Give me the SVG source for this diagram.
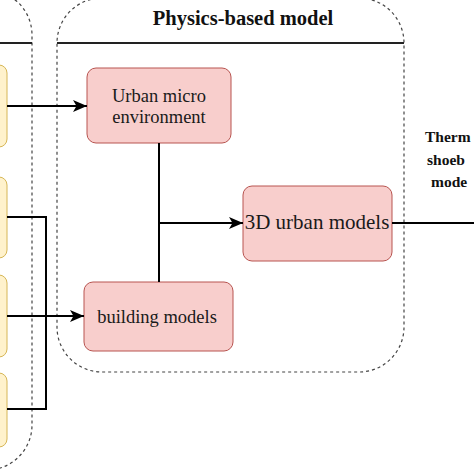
<svg xmlns="http://www.w3.org/2000/svg" width="474" height="474" viewBox="0 0 474 474">
<style>
.cont{fill:none;stroke:#444;stroke-width:1.2;stroke-dasharray:3 3}
.hdr{stroke:#222;stroke-width:2}
.yel{fill:#fff2cc;stroke:#d6b656;stroke-width:1}
.pink{fill:#f8cecc;stroke:#b85450;stroke-width:1}
.lbl{font-family:"Liberation Serif","Times New Roman",serif;fill:#1a1a1a;text-anchor:middle}
.bold{font-family:"Liberation Serif","Times New Roman",serif;font-weight:bold;fill:#111}
.con{fill:none;stroke:#000;stroke-width:2}
</style>
<defs>
<marker id="arr" markerUnits="userSpaceOnUse" markerWidth="16" markerHeight="14" refX="14" refY="6" orient="auto">
<path d="M0,0 L14,6 L0,12 L3.5,6 z" fill="#000"/>
</marker>
</defs>
<g id="left-container">
<rect class="cont" x="-100" y="-10" width="132" height="480" rx="45"/>
<line class="hdr" x1="0" y1="43" x2="32" y2="43"/>
</g>
<g id="physics-container">
<rect class="cont" x="57" y="-2" width="347" height="374" rx="45"/>
<line class="hdr" x1="57" y1="43" x2="404" y2="43"/>
<text class="bold" x="243" y="25" font-size="20.5" text-anchor="middle">Physics-based model</text>
</g>
<g id="input1"><rect class="yel" x="-50" y="65" width="57" height="82" rx="8"/></g>
<g id="input2"><rect class="yel" x="-50" y="177" width="57" height="81" rx="8"/></g>
<g id="input3"><rect class="yel" x="-50" y="275" width="57" height="82" rx="8"/></g>
<g id="input4"><rect class="yel" x="-50" y="373" width="57" height="74" rx="8"/></g>
<g id="urban-micro">
<rect class="pink" x="87" y="68" width="144" height="75" rx="9"/>
<text class="lbl" x="159" y="102" font-size="18.5">Urban micro</text>
<text class="lbl" x="159" y="123" font-size="18.5">environment</text>
</g>
<g id="urban-3d">
<rect class="pink" x="243" y="186" width="149" height="75" rx="9"/>
<text class="lbl" x="317" y="229" font-size="21">3D urban models</text>
</g>
<g id="building">
<rect class="pink" x="84" y="282" width="149" height="69" rx="9"/>
<text class="lbl" x="157" y="323" font-size="18.5">building models</text>
</g>
<g id="thermal">
<text class="bold" x="425" y="142" font-size="15.5">Therm</text>
<text class="bold" x="427" y="165" font-size="15.5">shoeb</text>
<text class="bold" x="431" y="187" font-size="15.5">mode</text>
</g>
<g id="connectors">
<line class="con" x1="7" y1="106" x2="87" y2="106" marker-end="url(#arr)"/>
<polyline class="con" points="7,217 46,217 46,409 7,409"/>
<line class="con" x1="7" y1="316" x2="84" y2="316" marker-end="url(#arr)"/>
<line class="con" x1="159" y1="143" x2="159" y2="282"/>
<line class="con" x1="159" y1="223" x2="243" y2="223" marker-end="url(#arr)"/>
<line class="con" x1="392" y1="223" x2="474" y2="223"/>
</g>
</svg>
